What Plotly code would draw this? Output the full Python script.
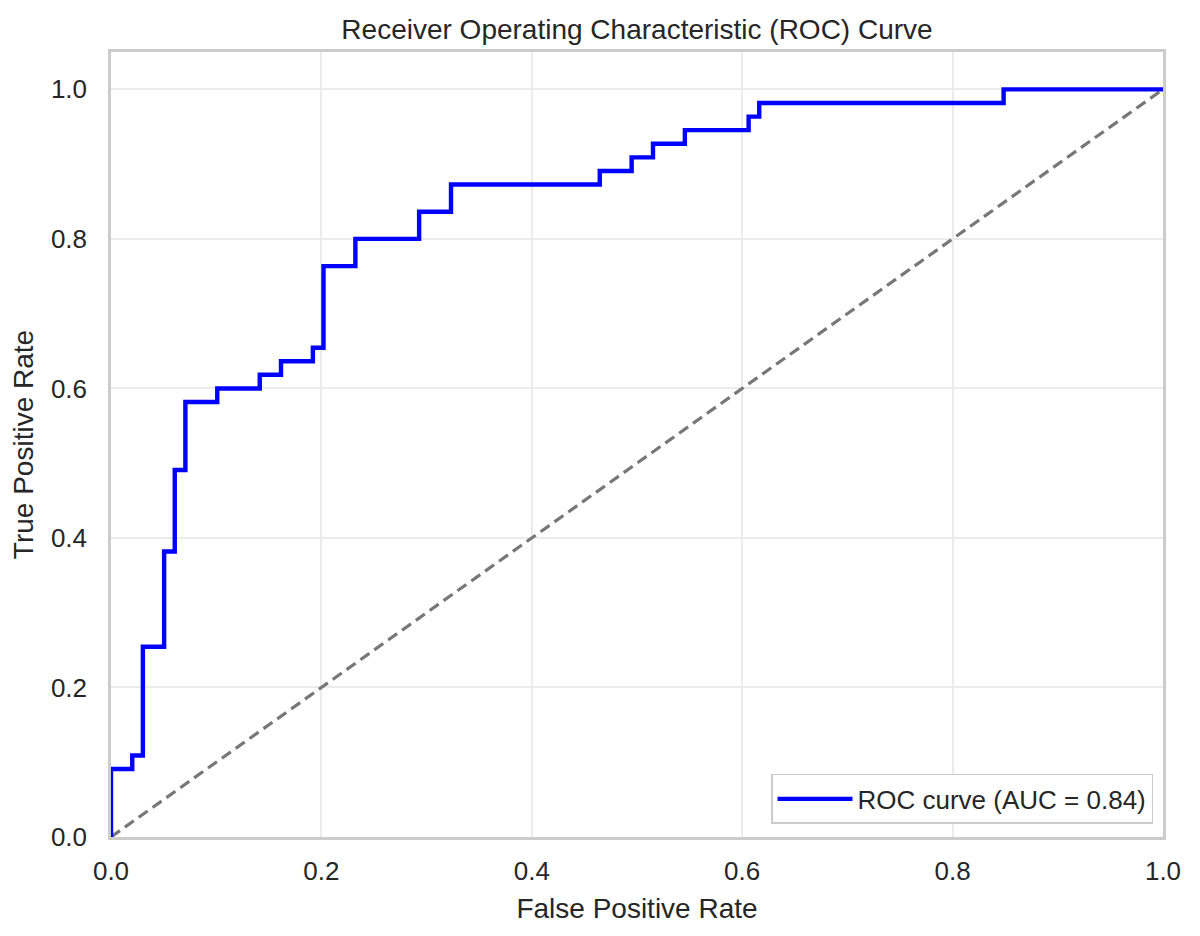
import plotly.graph_objects as go

# ROC curve corner points
fpr = [0.0, 0.0, 0.0202, 0.0303, 0.0505, 0.0606, 0.0707, 0.1010, 0.1414,
       0.1616, 0.1919, 0.2020, 0.2323, 0.2929, 0.3232, 0.4646, 0.4949,
       0.5152, 0.5455, 0.6061, 0.6162, 0.8485, 1.0]
tpr = [0.0, 0.0909, 0.1091, 0.2545, 0.3818, 0.4909, 0.5818, 0.6000, 0.6182,
       0.6364, 0.6545, 0.7636, 0.8000, 0.8364, 0.8727, 0.8909, 0.9091,
       0.9273, 0.9455, 0.9636, 0.9818, 1.0, 1.0]
auc_value = 0.84

chance_x = [0.0, 1.0]
chance_y = [0.0, 1.0]

tick_vals = [0.0, 0.2, 0.4, 0.6, 0.8, 1.0]
tick_text = ['0.0', '0.2', '0.4', '0.6', '0.8', '1.0']

FONT = 'Liberation Sans, Arial, sans-serif'
TEXT = '#262626'

roc = go.Scatter(
    x=fpr,
    y=tpr,
    mode='lines',
    line=dict(color='#0000ff', width=4.4, shape='hv'),
    name='ROC curve (AUC = %.2f)' % auc_value,
)

chance = go.Scatter(
    x=chance_x,
    y=chance_y,
    mode='lines',
    line=dict(color='#777777', width=3.2, dash='11px,6px'),
    showlegend=False,
    hoverinfo='skip',
)

axis_common = dict(
    tickvals=tick_vals,
    ticktext=tick_text,
    showgrid=True,
    gridcolor='#ebebeb',
    gridwidth=1.5,
    zeroline=False,
    showline=True,
    linecolor='#cccccc',
    linewidth=2.5,
    mirror=True,
    ticks='',
    tickfont=dict(family=FONT, size=26, color=TEXT),
)

# the page body adds an 8px offset, margins below account for it
layout = go.Layout(
    width=1200,
    height=936,
    paper_bgcolor='white',
    plot_bgcolor='white',
    margin=dict(l=103, r=45, t=44, b=107),
    font=dict(family=FONT, color=TEXT),
    title=dict(
        text='Receiver Operating Characteristic (ROC) Curve',
        x=(103 + 1052 / 2) / 1200,
        xanchor='center',
        y=1 - 21 / 936,
        yanchor='middle',
        font=dict(family=FONT, size=28, color=TEXT),
    ),
    xaxis=dict(
        axis_common,
        range=[0, 1],
        ticklabelstandoff=9,
        title=dict(text='False Positive Rate', standoff=14,
                   font=dict(family=FONT, size=28, color=TEXT)),
    ),
    yaxis=dict(
        axis_common,
        range=[0, 1.05],
        ticklabelstandoff=16,
        title=dict(text='True Positive Rate', standoff=10,
                   font=dict(family=FONT, size=28, color=TEXT)),
    ),
    legend=dict(
        x=0.9905,
        y=0.0166,
        xanchor='right',
        yanchor='bottom',
        bgcolor='white',
        bordercolor='#cccccc',
        borderwidth=1.5,
        itemwidth=75,
        font=dict(family=FONT, size=26, color=TEXT),
    ),
    showlegend=True,
)

fig = go.Figure([chance, roc], layout=layout)
fig.write_html('out.html')
